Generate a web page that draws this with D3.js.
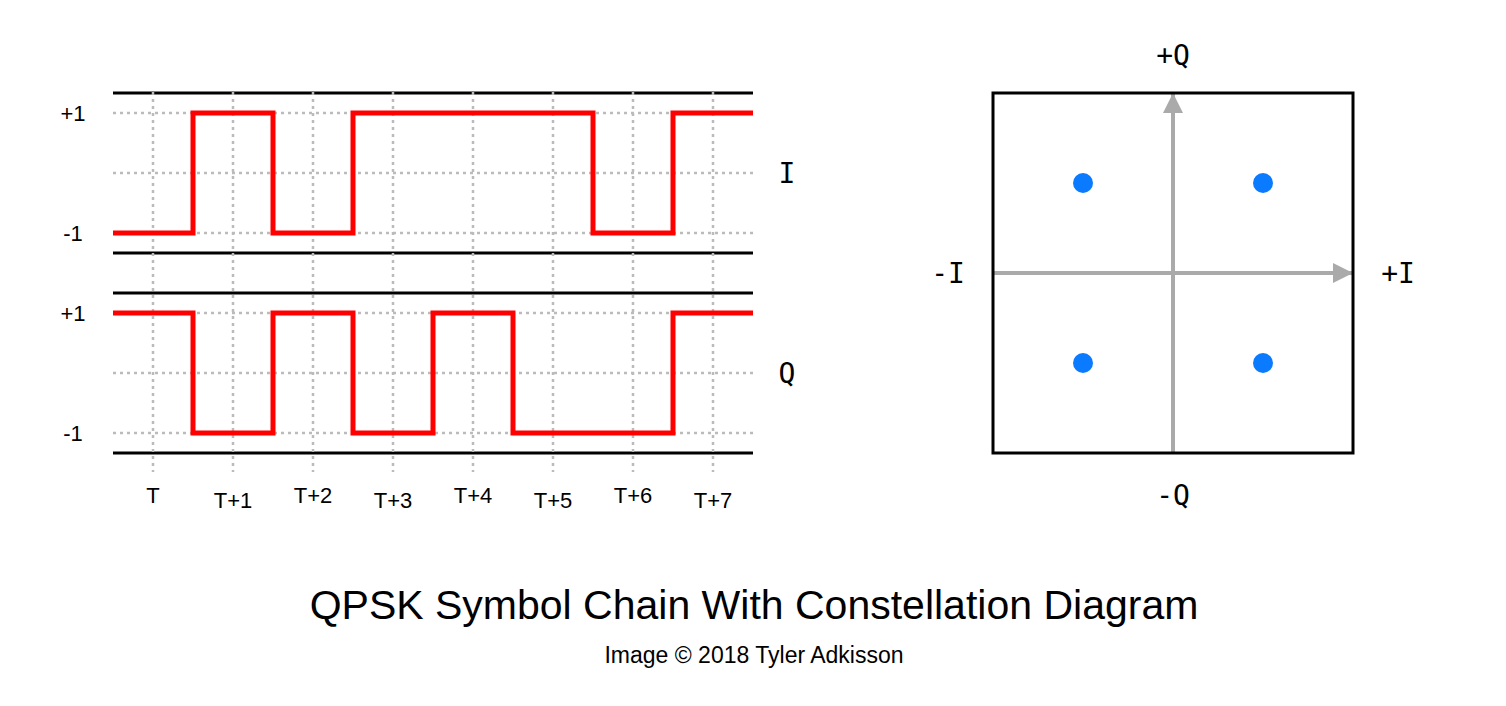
<!DOCTYPE html>
<html><head><meta charset="utf-8">
<script src="https://cdn.jsdelivr.net/npm/d3@7"></script>
<style>body{margin:0;background:#fff}</style>
</head><body>
<svg id="chart" width="1506" height="706"></svg>
<script>
var symbols = ['T', 'T+1', 'T+2', 'T+3', 'T+4', 'T+5', 'T+6', 'T+7'];
var iValues = [-1, 1, -1, 1, 1, 1, -1, 1];
var qValues = [1, -1, 1, -1, 1, -1, -1, 1];
var levelTicks = [1, 0, -1];
var constellation = [[-1, 1], [1, 1], [-1, -1], [1, -1]];

var svg = d3.select('#chart');
var mono = "'DejaVu Sans Mono', 'Liberation Mono', monospace";
var sans = "'Liberation Sans', Arial, sans-serif";

var x = d3.scaleBand().domain(symbols).range([113, 753]);

var drawPanel = (name, values, top) => {
  var y = d3.scaleLinear().domain([-1, 1]).range([top + 140, top + 20]);
  var g = svg.append('g');
  levelTicks.forEach(v => {
    g.append('line').attr('x1', 113).attr('x2', 753)
      .attr('y1', y(v)).attr('y2', y(v))
      .attr('stroke', '#bbb').attr('stroke-width', 2.5).attr('stroke-dasharray', '3,4');
  });
  [top, top + 160].forEach(yy => {
    g.append('line').attr('x1', 113).attr('x2', 753).attr('y1', yy).attr('y2', yy)
      .attr('stroke', '#000').attr('stroke-width', 3);
  });
  [1, -1].forEach(v => {
    g.append('text').attr('x', 73).attr('y', y(v)).attr('dy', '0.35em')
      .attr('text-anchor', 'middle').attr('font-family', sans).attr('font-size', 22)
      .text(v > 0 ? '+1' : '-1');
  });
  g.append('text').attr('x', 787).attr('y', y(0)).attr('dy', '0.35em')
    .attr('text-anchor', 'middle').attr('font-family', mono).attr('font-size', 28).text(name);
  return y;
};

var yI = drawPanel('I', iValues, 93);
var yQ = drawPanel('Q', qValues, 293);

// vertical grid
symbols.forEach(s => {
  var cx = x(s) + x.bandwidth() / 2;
  svg.append('line').attr('x1', cx).attr('x2', cx).attr('y1', 92).attr('y2', 472)
    .attr('stroke', '#bbb').attr('stroke-width', 2.5).attr('stroke-dasharray', '3,4');
});
svg.selectAll('.sym').data(symbols).enter().append('text')
  .attr('x', d => x(d) + x.bandwidth() / 2)
  .attr('y', (d, i) => i % 2 ? 500 : 495)
  .attr('dy', '0.35em').attr('text-anchor', 'middle')
  .attr('font-family', sans).attr('font-size', 22).text(d => d);

var drawSignal = (values, y) => {
  var pts = [];
  values.forEach((v, i) => {
    pts.push([x(symbols[i]), y(v)]);
    pts.push([x(symbols[i]) + x.bandwidth(), y(v)]);
  });
  svg.append('path').attr('d', d3.line()(pts)).attr('fill', 'none')
    .attr('stroke', '#ff0000').attr('stroke-width', 5).attr('stroke-linejoin', 'miter');
};
drawSignal(iValues, yI);
drawSignal(qValues, yQ);

// constellation
var cxs = d3.scaleLinear().domain([-2, 2]).range([993, 1353]);
var cys = d3.scaleLinear().domain([-2, 2]).range([453, 93]);
svg.append('defs').append('marker').attr('id', 'arr').attr('viewBox', '0 0 10 10')
  .attr('refX', 10).attr('refY', 5).attr('markerWidth', 5).attr('markerHeight', 5)
  .attr('markerUnits', 'strokeWidth').attr('orient', 'auto')
  .append('path').attr('d', 'M0,0L10,5L0,10z').attr('fill', '#aaa');
svg.append('line').attr('x1', cxs(-2)).attr('x2', cxs(2)).attr('y1', cys(0)).attr('y2', cys(0))
  .attr('stroke', '#aaa').attr('stroke-width', 4).attr('marker-end', 'url(#arr)');
svg.append('line').attr('x1', cxs(0)).attr('x2', cxs(0)).attr('y1', cys(-2)).attr('y2', cys(2))
  .attr('stroke', '#aaa').attr('stroke-width', 4).attr('marker-end', 'url(#arr)');
svg.append('rect').attr('x', cxs(-2)).attr('y', cys(2)).attr('width', cxs(2) - cxs(-2))
  .attr('height', cys(-2) - cys(2)).attr('fill', 'none').attr('stroke', '#000').attr('stroke-width', 3);
svg.selectAll('.pt').data(constellation).enter().append('circle')
  .attr('cx', d => cxs(d[0])).attr('cy', d => cys(d[1])).attr('r', 10).attr('fill', '#0a7bff');
[['+Q', cxs(0), 55], ['-Q', cxs(0), 495], ['-I', 948, cys(0)], ['+I', 1398, cys(0)]].forEach(l => {
  svg.append('text').attr('x', l[1]).attr('y', l[2]).attr('dy', '0.35em')
    .attr('text-anchor', 'middle').attr('font-family', mono).attr('font-size', 28).text(l[0]);
});

svg.append('text').attr('x', 754).attr('y', 605).attr('dy', '0.35em').attr('text-anchor', 'middle')
  .attr('font-family', sans).attr('font-size', 41).text('QPSK Symbol Chain With Constellation Diagram');
svg.append('text').attr('x', 754).attr('y', 655).attr('dy', '0.35em').attr('text-anchor', 'middle')
  .attr('font-family', sans).attr('font-size', 23).text('Image © 2018 Tyler Adkisson');
</script>
</body></html>
